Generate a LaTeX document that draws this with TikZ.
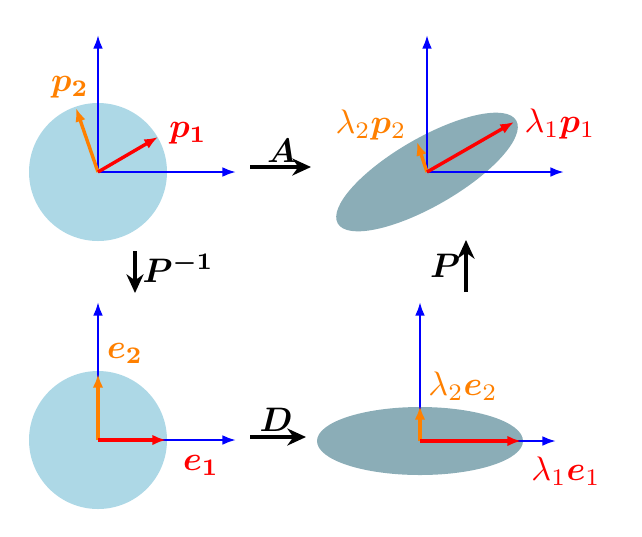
\documentclass[tikz,border=0pt]{standalone}
\usepackage{amsmath,bm}
\usetikzlibrary{arrows.meta}
\definecolor{disk}{RGB}{173,216,230}
\definecolor{ell}{RGB}{139,173,183}
\definecolor{org}{RGB}{255,128,0}
\tikzset{
  axis/.style={blue, line width=0.7pt, -{Latex[length=4pt,width=2.9pt]}},
  vecr/.style={red, line width=1pt, -{Latex[length=4pt,width=3.1pt]}},
  veco/.style={org, line width=1pt, -{Latex[length=4pt,width=3.1pt]}},
  maparrow/.style={black, line width=1.3pt, -{Stealth[length=5.5pt,width=5pt]}},
  lblr/.style={red, inner sep=0pt},
  lblo/.style={org, inner sep=0pt},
  lblk/.style={black, inner sep=0pt},
}
\begin{document}
\begin{tikzpicture}[x=0.01034cm, y=-0.01034cm]
\useasboundingbox (0,0) rectangle (642,536);
% ---------- top left
\coordinate (O1) at (98,172);
\fill[disk] (O1) circle[radius=69];
\coordinate (X1) at (236,172);
\coordinate (Y1) at (98,35);
\draw[axis] (O1) -- (X1);
\draw[axis] (O1) -- (Y1);
\coordinate (P1) at (158,137);
\coordinate (P2) at (76,108);
\draw[veco] (O1) -- (P2);
\draw[vecr] (O1) -- (P1);
\node[lblo] (lp2) at (70,87) {$\bm{p_2}$};
\node[lblr] (lp1) at (188,133) {$\bm{p_1}$};
% ---------- top right
\coordinate (O2) at (427,172);
\fill[ell, rotate around={30:(O2)}] (O2) ellipse[x radius=103, y radius=34];
\coordinate (X2) at (564,172);
\coordinate (Y2) at (427,35);
\draw[axis] (O2) -- (X2);
\draw[axis] (O2) -- (Y2);
\coordinate (Q1) at (514,122);
\coordinate (Q2) at (417,142);
\draw[veco] (O2) -- (Q2);
\draw[vecr] (O2) -- (Q1);
\node[lblo] (lq2) at (371,125) {$\lambda_2\bm{p}_2$};
\node[lblr] (lq1) at (560,124) {$\lambda_1\bm{p}_1$};
% ---------- bottom left
\coordinate (O3) at (98,440);
\fill[disk] (O3) circle[radius=69];
\coordinate (X3) at (236,440);
\coordinate (Y3) at (98,302);
\draw[axis] (O3) -- (X3);
\draw[axis] (O3) -- (Y3);
\coordinate (E1) at (166,440);
\coordinate (E2) at (98,374);
\draw[veco] (O3) -- (E2);
\draw[vecr] (O3) -- (E1);
\node[lblo] (le2) at (125,353) {$\bm{e_2}$};
\node[lblr] (le1) at (201,465) {$\bm{e_1}$};
% ---------- bottom right
\coordinate (O4) at (420,441);
\fill[ell] (O4) ellipse[x radius=103, y radius=34];
\coordinate (X4) at (556,441);
\coordinate (Y4) at (420,302);
\draw[axis] (O4) -- (X4);
\draw[axis] (O4) -- (Y4);
\coordinate (F1) at (521,441);
\coordinate (F2) at (420,406);
\draw[veco] (O4) -- (F2);
\draw[vecr] (O4) -- (F1);
\node[lblo] (lf2) at (463,386) {$\lambda_2\bm{e}_2$};
\node[lblr] (lf1) at (566,471) {$\lambda_1\bm{e}_1$};
% ---------- map arrows
\coordinate (A0) at (250,167);
\coordinate (A1) at (311,167);
\draw[maparrow] (A0) -- (A1);
\node[lblk] (lA) at (282,151) {$\bm{A}$};
\coordinate (D0) at (250,437);
\coordinate (D1) at (306,437);
\draw[maparrow] (D0) -- (D1);
\node[lblk] (lD) at (276,420) {$\bm{D}$};
\coordinate (Pi0) at (135,251);
\coordinate (Pi1) at (135,293);
\draw[maparrow] (Pi0) -- (Pi1);
\node[lblk, anchor=west] (lPi) at (142,268) {$\bm{P^{-1}}$};
\coordinate (P0) at (466,292);
\coordinate (Pe) at (466,240);
\draw[maparrow] (P0) -- (Pe);
\node[lblk] (lP) at (445,266) {$\bm{P}$};
\end{tikzpicture}
\end{document}
